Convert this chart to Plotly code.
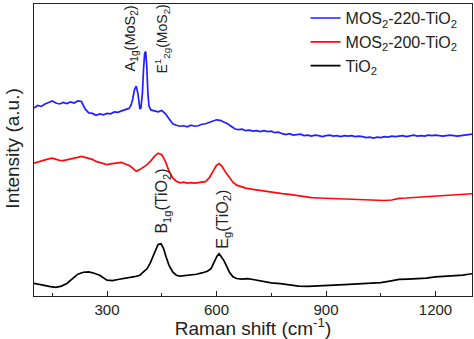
import plotly.graph_objects as go

# Raman shift (cm^-1) and intensity (a.u., offset stacked)
x_blue = [100,110,120,130,140,150,160,170,180,190,200,210,220,230,240,250,260,270,280,290,
          300,310,320,330,340,350,360,365,370,375,380,385,390,393,397,400,403,406,409,412,415,420,
          430,440,450,460,470,480,490,500,510,520,530,540,550,560,570,580,590,600,610,620,630,640,
          650,660,670,680,690,700,710,720,730,740,750,760,770,780,790,800,810,820,830,840,850,860,
          870,880,890,900,910,920,930,940,950,960,970,980,990,1000,1010,1020,1030,1040,1050,1060,
          1070,1080,1090,1100,1110,1120,1130,1140,1150,1160,1170,1180,1190,1200,1210,1220,1230,
          1240,1250,1260,1270,1280,1290,1300]
y_blue = [190,192.5,191.5,194,195.5,197,195,194,195.5,194.5,196,195,197,196.5,189,185,184.5,182.5,184,183,
          184.5,184,186,185.5,187,188,189.5,192,198,208,212,204,189,190,205,228,245,247,232,205,192,188,
          187,186,187.5,184,179,174,172.5,171.5,172,171,172.5,171.5,172,173.5,174,175.5,177,178,177.5,176,174,171.5,
          169,168,168.5,167,167.5,166.5,167,166,167,166,166.5,165,165.5,164,163,164,162.5,163,163.5,162,162.5,161.5,
          162.5,162,161,162,162.5,161.5,162,161,162,161.5,162,161,161.5,161,160,160.5,159.5,160.5,160,161,
          160.5,161.5,161,161.5,162,161,162,162.5,161.5,162,161.5,162.5,162,162.5,162,161.5,162,
          162.5,162,161.5,162,162.5,163,163.5]

x_red = [100,110,120,130,140,150,160,170,180,190,200,210,220,230,240,250,260,270,280,290,
         300,310,320,330,340,350,360,370,380,390,400,410,420,430,440,450,460,470,480,490,
         500,510,520,530,540,550,560,570,580,590,600,607,615,625,635,645,655,665,680,700,
         720,740,760,780,800,820,840,860,880,900,920,940,960,980,1000,1020,1040,1060,1080,1100,
         1120,1140,1160,1180,1200,1220,1240,1260,1280,1300]
y_red = [134.3,135.5,136,137.5,138.5,139.3,138,137,136.7,137.5,137.7,139,140,141,140,139.3,138,136,135,134,
         132.7,133.5,134,134.3,135,133.3,132,129.3,126,127.7,130,132.7,136.5,141,144.3,142.7,136,126,119.3,116,
         114.3,115,114,114.5,114,114.5,115,115.5,119.3,126,132,133.7,131,125,120,115,112,110.5,109,107.7,
         106.5,105.5,104.3,103.5,102.7,101.5,100.5,99.3,99,98.7,98.5,98,97.7,97.5,97.7,97,96.7,96.5,97,98.7,
         99,99.5,100,100.5,101,101.5,102,102.5,103,103.3]

x_black = [100,115,130,145,160,175,190,205,220,235,250,265,280,300,315,330,345,360,375,390,
           400,410,418,425,432,440,448,455,462,470,480,490,500,515,530,545,560,575,585,595,
           601,607,613,620,628,635,645,655,670,685,700,725,750,775,800,825,850,875,900,925,
           950,975,1000,1025,1050,1075,1100,1125,1150,1175,1200,1225,1250,1275,1290,1300]
y_black = [12.7,11.5,11,9.5,8.7,10,12.7,17,22,24,24.3,23,21,16,15.5,16.7,17.5,18.7,19.5,21,
           24,27.7,33,39.3,46,52,52.7,48,39.3,31,24.3,21,20,20.5,21,22,23.3,25,27.7,36,
           40,42.7,40,36,30,24.3,19.5,17.7,17,17.5,16.7,15,13.3,12.5,11,10,9.7,10,11,11,
           11.5,12,12.7,13,13.5,15,16.7,17,17.5,18,19.3,19.8,20.5,21,22,22.5]

series_names = ["MOS<sub>2</sub>-220-TiO<sub>2</sub>",
                "MOS<sub>2</sub>-200-TiO<sub>2</sub>",
                "TiO<sub>2</sub>"]
series_colors = ["#1f1fff", "#ff0a0a", "#000000"]

peak_labels = ["A<sub>1g</sub>(MoS<sub>2</sub>)",
               "E<sup>1</sup><sub>2g</sub>(MoS<sub>2</sub>)",
               "B<sub>1g</sub>(TiO<sub>2</sub>)",
               "E<sub>g</sub>(TiO<sub>2</sub>)"]
peak_x = [366, 450, 452, 620]
peak_y = [225, 223, 61, 46]
peak_font_sizes = [14.5, 14, 16, 16]

xs = [x_blue, x_red, x_black]
ys = [y_blue, y_red, y_black]

fig = go.Figure()
for xv, yv, nm, c in zip(xs, ys, series_names, series_colors):
    fig.add_trace(go.Scatter(x=xv, y=yv, mode="lines", name=nm,
                             line=dict(color=c, width=1.7)))

for lbl, px, py, fs in zip(peak_labels, peak_x, peak_y, peak_font_sizes):
    fig.add_annotation(x=px, y=py, xref="x", yref="y", text=lbl, textangle=-90,
                       showarrow=False, xanchor="center", yanchor="bottom",
                       font=dict(size=fs, color="#222", family="Liberation Sans, Arial"))

fig.add_annotation(x=-0.05, y=0.505, xref="paper", yref="paper", text="Intensity (a.u.)",
                   textangle=-90, showarrow=False, xanchor="center", yanchor="middle",
                   font=dict(size=19, color="#222", family="Liberation Sans, Arial"))

fig.update_layout(
    width=474, height=339,
    margin=dict(l=34, r=2, t=1, b=43),
    paper_bgcolor="white", plot_bgcolor="white",
    font=dict(family="Liberation Sans, Arial", color="#222"),
    showlegend=True,
    legend=dict(x=0.62, y=1.01, xanchor="left", yanchor="top",
                bgcolor="rgba(0,0,0,0)", font=dict(size=16, color="#222"),
                tracegroupgap=0),
    xaxis=dict(range=[100, 1300], tick0=0, dtick=300, ticks="inside", ticklen=5,
               tickcolor="#222", showgrid=False, zeroline=False,
               showline=True, linecolor="#222", linewidth=1.2, mirror=True,
               tickfont=dict(size=15, color="#222"),
               minor=dict(dtick=150, ticks="inside", ticklen=3, tickcolor="#222"),
               title=dict(text="Raman shift (cm<sup>-1</sup>)", font=dict(size=19, color="#222"),
                          standoff=3)),
    yaxis=dict(range=[0, 295], showticklabels=False, ticks="", showgrid=False,
               zeroline=False, showline=True, linecolor="#222", linewidth=1.2, mirror=True),
)

fig.write_html("out.html")
